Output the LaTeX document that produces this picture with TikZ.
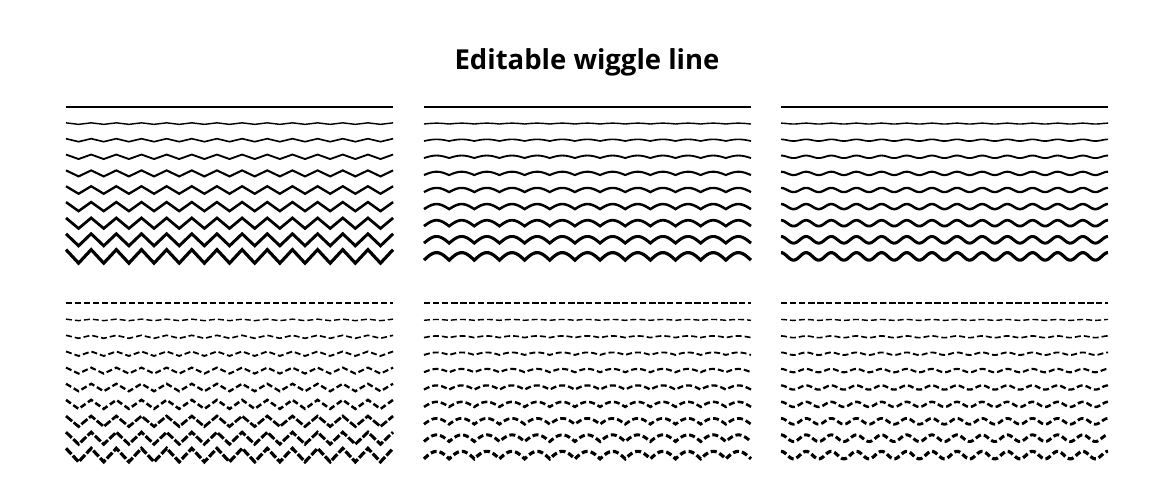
\documentclass[tikz,border=0pt]{standalone}
\usepackage{fontspec}
\setmainfont{Open Sans}
\tikzset{
  wig/.style={line join=miter,line cap=butt},
  dash line/.style={dash pattern=on 6pt off 3pt},
  dash dense/.style={dash pattern=on 8pt off 2pt}
}
% zigzag row: x0, y, amplitude, width, options
\newcommand{\zigrow}[5]{%
  \draw[wig,line width=#4,#5] plot[samples at={0,...,26}]
    ({#1+\x*12.58},{#2-#3*(1-2*mod(\x,2))});}
% scallop row
\newcommand{\arcrow}[5]{%
  \draw[wig,line width=#4,#5] plot[domain=0:327,samples=300]
    ({#1+\x},{#2-#3*(2*abs(sin(\x/25.15*180))-1)});}
% sine row
\newcommand{\sinrow}[5]{%
  \draw[wig,line width=#4,#5] plot[domain=0:327,samples=300]
    ({#1+\x},{#2-#3*cos(\x/25.15*360)});}
\begin{document}
\begin{tikzpicture}[x=1pt,y=-1pt]
  \useasboundingbox (0,0) rectangle (1174,500);
  \node[font=\bfseries\fontsize{27.5}{30}\selectfont] (title) at (587,62) {Editable wiggle line};
  \foreach \i in {0,...,9}{
    \pgfmathsetmacro{\yt}{107+16.6*\i}
    \pgfmathsetmacro{\yb}{303+16.9*\i}
    \pgfmathsetmacro{\amp}{0.75*\i}
    \pgfmathsetmacro{\lw}{1.2+0.22*\i}
    \zigrow{66}{\yt}{\amp}{\lw pt}{}
    \arcrow{424}{\yt}{\amp/1.8}{\lw pt}{}
    \sinrow{781}{\yt}{\amp/1.8}{\lw pt}{}
    \ifnum\i<7
      \zigrow{66}{\yb}{\amp}{\lw pt}{dash line}
    \else
      \zigrow{66}{\yb}{\amp}{\lw pt}{dash dense}
    \fi
    \arcrow{424}{\yb}{\amp/1.8}{\lw pt}{dash line}
    \sinrow{781}{\yb}{\amp/1.8}{\lw pt}{dash line}
  }
\end{tikzpicture}
\end{document}
